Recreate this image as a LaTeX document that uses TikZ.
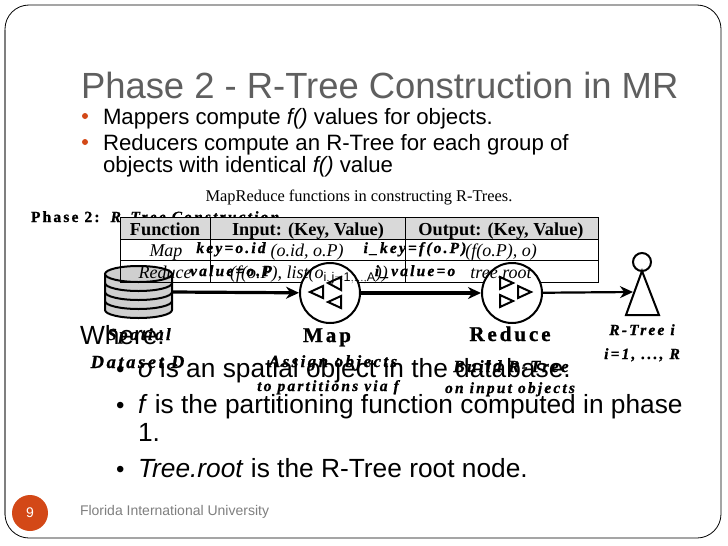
\documentclass[tikz,border=0pt]{standalone}
\usepackage{fontspec}
\setmainfont{Liberation Sans}
\newfontfamily\serifx{Liberation Serif}
\newfontfamily\spaced[LetterSpace=14,FakeBold=1]{Liberation Serif}
\usetikzlibrary{arrows.meta}
\definecolor{titlegray}{HTML}{5F5F5F}
\definecolor{accent}{HTML}{D34817}
\definecolor{footgray}{HTML}{7F7F7F}
\definecolor{headgray}{HTML}{D9D9D9}
\definecolor{dbgray}{HTML}{CFCFCF}
\tikzset{
  x=1pt,y=-1pt,
  txt/.style={anchor=base west,inner sep=0pt,outer sep=0pt,text=black},
  tsans/.style={txt,font=\fontsize{22.2}{22.2}\selectfont},
  tbody/.style={txt,font=\fontsize{26.3}{26.3}\selectfont},
  tcell/.style={anchor=base,inner sep=0pt,font=\serifx\fontsize{18}{18}\selectfont\itshape},
  thead/.style={anchor=base,inner sep=0pt,font=\serifx\fontsize{18.3}{18.3}\selectfont\bfseries},
  dlabel/.style={anchor=base,inner sep=0pt,font=\spaced\fontsize{15.5}{15.5}\selectfont\bfseries\itshape},
  dlarge/.style={anchor=base,inner sep=0pt,font=\spaced\fontsize{17}{17}\selectfont\bfseries\itshape},
  dtitle/.style={anchor=base,inner sep=0pt,font=\spaced\fontsize{21}{21}\selectfont\bfseries},
  tblline/.style={draw=black,line width=1pt},
  flow/.style={line width=3.2pt,-{Stealth[length=13pt,width=12pt]}},
  thin flow/.style={line width=2.2pt,-{Stealth[length=13pt,width=12pt]}},
  opcircle/.style={circle,draw=black,fill=white,line width=2pt,minimum size=60pt,inner sep=0pt},
  tri/.style={draw=black,line width=2pt,line join=miter},
  bull/.style={circle,fill=accent,inner sep=0pt,minimum size=6pt},
}
\begin{document}
\begin{tikzpicture}
\useasboundingbox (0,0) rectangle (728,546);
\fill[white] (0,0) rectangle (728,546);
% slide frame
\draw[black,line width=0.8pt,rounded corners=24pt] (5,5) rectangle (721,538);
\draw[footgray,line width=1.2pt] (5,30) -- (5,515);
% title
\node[txt,text=titlegray,font=\fontsize{36.4}{36.4}\selectfont] (title) at (81,98) {Phase 2 - R-Tree Construction in MR};
% bullets
\node[bull] (b1) at (85,116) {};
\node[bull] (b2) at (85,142) {};
\node[tsans] (l1) at (103,124) {Mappers compute \textit{f()} values for objects.};
\node[tsans] (l2) at (103,150) {Reducers compute an R-Tree for each group of};
\node[tsans] (l3) at (103,172) {objects with identical \textit{f()} value};
% caption
\node[anchor=base,inner sep=0pt,font=\serifx\fontsize{16.4}{16.4}\selectfont] (cap) at (359,201) {MapReduce functions in constructing R-Trees.};
% phase label (cut off by the table)
\node[txt,font=\spaced\fontsize{15.5}{15.5}\selectfont\bfseries] (ph) at (31,222) {Phase 2:\hspace{3pt} \itshape R-Tree Construction};
% database
\draw[black,line width=2pt,fill=dbgray] (105,274) -- (105,310) arc[start angle=180,end angle=360,x radius=33.5,y radius=-8] -- (172,274);
\filldraw[fill=dbgray,draw=black,line width=2pt] (138.5,274) ellipse [x radius=33.5,y radius=8];
\foreach \yy in {283,292,301}{
  \draw[black,line width=2pt] (105,\yy) arc[start angle=180,end angle=360,x radius=33.5,y radius=-8];
}
\coordinate (dbr) at (172,292);
% table
\fill[white] (120,217) rectangle (598,260.5);
\fill[headgray] (120,217) rectangle (598,239);
\draw[tblline] (120,217) rectangle (598,282);
\draw[tblline] (120,239) -- (598,239);
\draw[tblline] (120,260.5) -- (598,260.5);
\draw[tblline] (210,217) -- (210,282);
\draw[tblline] (405,217) -- (405,282);
% operators
\node[opcircle] (map) at (330,293) {};
\node[opcircle] (red) at (512,293) {};
\node[thead] (h1) at (165,235) {Function};
\node[thead] (h2) at (308,235) {Input: (Key, Value)};
\node[thead] (h3) at (501,235) {Output: (Key, Value)};
\node[tcell] (c1) at (166,256) {Map};
\node[tcell] (c2) at (307,256) {(o.id, o.P)};
\node[tcell] (c3) at (501,256) {(f(o.P), o)};
\node[tcell] (c4) at (165,278) {Reduce};
\node[tcell] (c5) at (309,278) {(f(o.P), list(o$_{\mathrm{i,\,j=1,\ldots,A}}$))};
\node[tcell] (c6) at (501,278) {tree.root};
\draw[tri] (323,286) -- (310,292) -- (323,298) -- cycle;
\draw[tri] (341,277) -- (328,283) -- (341,290) -- cycle;
\draw[tri] (341,296) -- (328,302) -- (341,308) -- cycle;
\draw[tri] (500,277) -- (513,283) -- (500,289) -- cycle;
\draw[tri] (518,286) -- (531,292) -- (518,298) -- cycle;
\draw[tri] (500,295) -- (513,301) -- (500,307) -- cycle;
% person
\node[circle,draw=black,line width=2pt,minimum size=18pt,inner sep=0pt] (head) at (642,262) {};
\coordinate (apex) at (642,271);
\coordinate (bl) at (626,315);
\coordinate (br) at (659,315);
\draw[black,line width=2pt] (apex) -- (bl) -- (br) -- cycle;
\coordinate (pin) at (633,292);
\draw[flow] (dbr) -- (map);
\draw[flow] (map) -- (red);
\draw[thin flow] (red) -- (pin);
% labels over the table
\node[dlabel] (k1) at (231,253) {key=o.id};
\node[dlabel] (k2) at (231,276) {value=o.P};
\node[dlabel] (k3) at (415,253) {i\_key=f(o.P)};
\node[dlabel] (k4) at (415,276) {i\_value=o};
% diagram labels
\node[dlarge] (d1) at (139,340) {Spatial};
\node[dlarge,font=\spaced\fontsize{18.5}{18.5}\selectfont\bfseries\itshape] (d2) at (137.5,368) {Dataset D};
\node[dtitle] (d3) at (327,342) {Map};
\node[dtitle] (d4) at (510,341) {Reduce};
\node[dlarge] (d5) at (333,367) {Assign objects};
\node[dlabel] (d6) at (328,391) {to partitions via f};
\node[dlarge] (d7) at (511,372) {Build R-Tree};
\node[dlabel] (d8) at (510,393) {on input objects};
\node[dlabel] (d9) at (642,335) {R-Tree i};
\node[dlabel] (d10) at (642,359) {i=1, ..., R};
% body
\node[tbody] (w) at (80,344) {Where:};
\node[txt,font=\fontsize{24}{24}\selectfont] (p1d) at (116,377) {•};
\node[tbody] (p1) at (138,377) {\textit{o} is an spatial object in the database.};
\node[txt,font=\fontsize{24}{24}\selectfont] (p2d) at (116,413) {•};
\node[tbody] (p2) at (138,413) {\textit{f} is the partitioning function computed in phase};
\node[tbody] (p2b) at (138,441) {1.};
\node[txt,font=\fontsize{24}{24}\selectfont] (p3d) at (116,477) {•};
\node[tbody] (p3) at (138,477) {\textit{Tree.root} is the R-Tree root node.};
% footer
\node[circle,fill=accent,inner sep=0pt,minimum size=36pt,text=white,font=\fontsize{14}{14}\selectfont] (num) at (30,513) {9};
\node[txt,text=footgray,font=\fontsize{14}{14}\selectfont] (foot) at (80,515) {Florida International University};
\end{tikzpicture}
\end{document}
